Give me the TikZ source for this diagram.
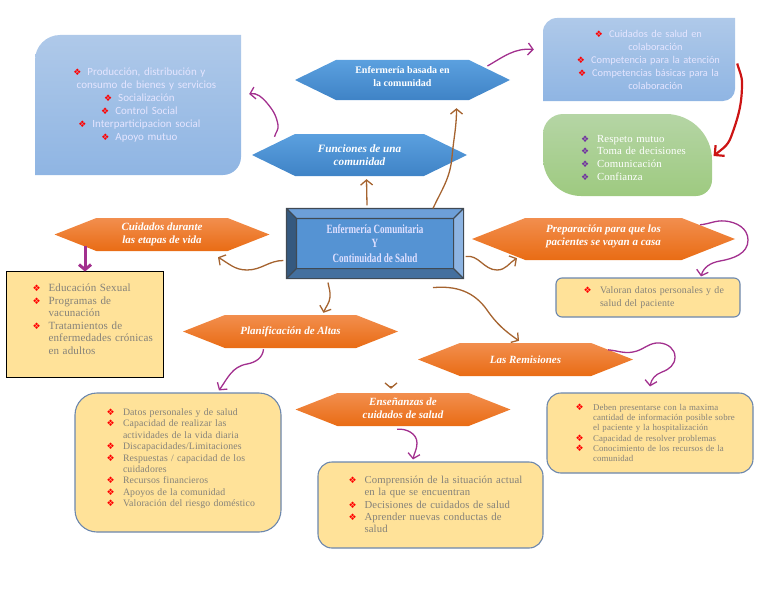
\documentclass[tikz,border=0pt]{standalone}
\usepackage{fontspec}
\usepackage{tikz}
\usetikzlibrary{shapes.symbols}
\usetikzlibrary{calc}
\usetikzlibrary{arrows.meta}
\setmainfont{Liberation Serif}
\newfontfamily\fcaja[LetterSpace=1.5]{Liberation Serif}
\newfontfamily\fazul{Carlito}
\newfontfamily\fcentro[FakeStretch=0.72,UprightFont=* Bold]{Liberation Serif}
\newfontfamily\fsimbolo{DejaVu Sans}
\definecolor{marron}{HTML}{A5632F}
\definecolor{morado}{HTML}{A2308E}
\definecolor{rojo}{HTML}{CC1414}
\definecolor{violeta}{HTML}{7030A0}
\definecolor{gristxt}{HTML}{85827A}
\definecolor{crema}{HTML}{FFE299}
\definecolor{bordecaja}{HTML}{6C87AD}
\definecolor{hexa1}{HTML}{F28E4E}
\definecolor{hexa2}{HTML}{F47C24}
\definecolor{hexa3}{HTML}{E96C14}
\definecolor{hexb1}{HTML}{5BA0DF}
\definecolor{hexb2}{HTML}{3F83C6}
\definecolor{azul1}{HTML}{AFC9E9}
\definecolor{azul2}{HTML}{8FB5E3}
\definecolor{verde1}{HTML}{B5D5A5}
\definecolor{verde2}{HTML}{9ECA80}
\definecolor{bisel0}{HTML}{5593D3}
\definecolor{bisel1}{HTML}{6D9FD8}
\definecolor{bisel2}{HTML}{35597F}
\definecolor{bisel3}{HTML}{8DB4E2}
\definecolor{bisel4}{HTML}{44709F}
\definecolor{biselraya}{HTML}{404A54}
\newcommand{\colorvin}{red}
\newcommand{\vin}{\textcolor{\colorvin}{\fsimbolo\small ❖}}
% item with a hanging text
\newcommand{\punto}[2][12.5pt]{\par\hangindent=#1\hangafter=1\noindent\makebox[#1][l]{\hspace*{-3.5pt}\vin}#2}
\newcommand{\colgado}{\leavevmode\llap{\vin\hspace{6pt}}}
% box with a radius for each corner: x0,y0,x1,y1,r1..r4
\newcommand{\cajaesq}[8]{(#1+#5,#2) -- (#3-#6,#2) .. controls (#3-0.45*#6,#2) and (#3,#2+0.45*#6) .. (#3,#2+#6) -- (#3,#4-#7) .. controls (#3,#4-0.45*#7) and (#3-0.45*#7,#4) .. (#3-#7,#4) -- (#1+#8,#4) .. controls (#1+0.45*#8,#4) and (#1,#4-0.45*#8) .. (#1,#4-#8) -- (#1,#2+#5) .. controls (#1,#2+0.45*#5) and (#1+0.45*#5,#2) .. (#1+#5,#2) -- cycle}
\tikzset{
    hexagono/.style = {signal,signal to=west and east,inner sep=0pt,minimum width=215pt,align=center,text=white,font=\fontsize{11}{13}\selectfont\bfseries\itshape},
    hexnaranja/.style = {hexagono,signal pointer angle=43,top color=hexa1,middle color=hexa2,bottom color=hexa3},
    hexazul/.style = {hexagono,signal pointer angle=52,top color=hexb1,bottom color=hexb2},
    cajaazul/.style = {top color=azul1,bottom color=azul2},
    textoazul/.style = {align=center,inner sep=0pt,text=white!90!blue,font=\fazul},
    caja/.style = {rectangle,draw=bordecaja,line width=1.1pt,fill=crema,inner sep=0pt,align=left,text=gristxt},
    conector/.style = {draw=marron,line width=1.3pt,-{Straight Barb[length=5pt,width=12pt]}},
    enlace/.style = {conector,draw=morado}}
\begin{document}
\begin{tikzpicture}[x=1pt,y=-1pt]
    \useasboundingbox (0,0) rectangle (768,594);
    % blue and green boxes
    \shade[cajaazul] \cajaesq{35}{35}{241}{175}{25}{0}{18}{0};
    \shade[cajaazul] \cajaesq{543}{18}{735}{101}{14}{0}{12}{0};
    \shade[top color=verde1,bottom color=verde2] \cajaesq{543}{114}{712}{196}{20}{46}{16}{38};
    \path (138,105) node[textoazul,text width=206pt,minimum height=140pt,font=\fontsize{11}{13}\selectfont\fazul] (social) {%
        \addtolength{\leftskip}{17pt}\colgado Producción, distribución y\\consumo de bienes y servicios\\\colgado Socialización\\\colgado Control Social\\\colgado Interparticipacion social\\\colgado Apoyo mutuo\par}
        (639,59.5) node[textoazul,text width=192pt,minimum height=83pt,font=\fontsize{10.4}{13}\selectfont\fazul] (colabora) {%
        \addtolength{\leftskip}{33pt}\colgado Cuidados de salud en\\colaboración\\\colgado Competencia para la atención\\\colgado Competencias básicas para la\\colaboración\par}
        (627.5,155) node[caja,draw=none,fill=none,text=white,text width=169pt,minimum height=82pt,font=\fontsize{10.8}{12.7}\selectfont\fcaja] (confianza) {%
        \renewcommand{\colorvin}{violeta}\setlength{\leftskip}{41.5pt}\punto{Respeto mutuo}\punto{Toma de decisiones}\punto{Comunicación}\punto{Confianza}\par};
    % center and hexagons
    \path (375,243.5) node[rectangle,draw=biselraya,line width=1.2pt,fill=bisel0,minimum width=176pt,minimum height=69pt,inner sep=0pt,align=center,text=white!88!blue,font=\fontsize{12.6}{14.2}\selectfont\fcentro] (centro) {Enfermería Comunitaria\\Y\\Continuidad de Salud}
        + (27.5,-163.5) node[hexazul,minimum height=40pt,font=\fontsize{10}{13}\selectfont\bfseries] (enf) {Enfermería basada en\\la comunidad\vspace{6pt}}
        + (-15.5,-88.5) node[hexazul,minimum height=42pt,font=\fontsize{11.2}{13}\selectfont\bfseries\itshape] (fun) {Funciones de una\\comunidad}
        + (-213,-9) node[hexnaranja,minimum height=33pt] (cui) {Cuidados durante\\las etapas de vida}
        + (-84.5,88) node[hexnaranja,minimum height=33pt] (pla) {Planificación de Altas}
        + (228.5,-4.5) node[hexnaranja,minimum height=42pt,minimum width=263pt] (pre) {Preparación para que los\\pacientes se vayan a casa\vspace{6pt}}
        + (150.5,116) node[hexnaranja,minimum height=33pt] (rem) {Las Remisiones}
        + (28,166) node[hexnaranja,minimum height=33pt] (ens) {Enseñanzas de\\cuidados de salud\vspace{3pt}};
    \fill[bisel1] (centro.north west) -- (centro.north east) -- ($(centro.north east)+(-10,10)$) -- ($(centro.north west)+(10,10)$) -- cycle;
    \fill[bisel2] (centro.north west) -- (centro.south west) -- ($(centro.south west)+(10,-10)$) -- ($(centro.north west)+(10,10)$) -- cycle;
    \fill[bisel3] (centro.north east) -- (centro.south east) -- ($(centro.south east)+(-10,-10)$) -- ($(centro.north east)+(-10,10)$) -- cycle;
    \fill[bisel4] (centro.south west) -- (centro.south east) -- ($(centro.south east)+(-10,-10)$) -- ($(centro.south west)+(10,-10)$) -- cycle;
    \draw[biselraya,line width=1.2pt] ($(centro.north west)+(10,10)$) rectangle ($(centro.south east)+(-10,-10)$) (centro.north west) -- ($(centro.north west)+(10,10)$) (centro.north east) -- ($(centro.north east)+(-10,10)$) (centro.south west) -- ($(centro.south west)+(10,-10)$) (centro.south east) -- ($(centro.south east)+(-10,-10)$) (centro.north west) rectangle (centro.south east);
    % yellow boxes
    \path (84.5,324) node[caja,draw=black,line width=0.9pt,text width=157pt,minimum height=106pt,font=\fontsize{11}{12.5}\selectfont\fcaja] (vida) {%
        \setlength{\leftskip}{30pt}\punto{Educación Sexual}\punto{Programas de\newline vacunación}\punto{Tratamientos de\newline enfermedades crónicas\newline en adultos}\par\vspace{14pt}}
        (648,297.5) node[caja,text width=184pt,minimum height=39pt,rounded corners=6pt,font=\fontsize{9.9}{12.5}\selectfont\fcaja] (valoran) {%
        \setlength{\leftskip}{31pt}\punto[13pt]{Valoran datos personales y de\newline salud del paciente}\par\vspace{5pt}}
        (178,462.5) node[caja,text width=206pt,minimum height=139pt,rounded corners=22pt,font=\fontsize{9.8}{11.4}\selectfont\fcaja] (datos) {%
        \setlength{\leftskip}{35pt}\punto[13pt]{Datos personales y de salud}\punto[13pt]{Capacidad de realizar las\newline actividades de la vida diaria}\punto[13pt]{Discapacidades/Limitaciones}\punto[13pt]{Respuestas / capacidad de los\newline cuidadores}\punto[13pt]{Recursos financieros}\punto[13pt]{Apoyos de la comunidad}\punto[13pt]{Valoración del riesgo doméstico}\par\vspace{12pt}}
        (430.5,505) node[caja,text width=225pt,minimum height=86pt,rounded corners=14pt,font=\fontsize{10.7}{12.4}\selectfont\fcaja] (comprende) {%
        \setlength{\leftskip}{34pt}\punto{Comprensión de la situación actual\newline en la que se encuentran}\punto{Decisiones de cuidados de salud}\punto{Aprender nuevas conductas de\newline salud}\par\vspace{6pt}}
        (650,433) node[caja,text width=206pt,minimum height=80pt,rounded corners=14pt,font=\fontsize{8.85}{10.3}\selectfont\fcaja] (deben) {%
        \setlength{\leftskip}{32pt}\punto[14pt]{Deben presentarse con la maxima\newline cantidad de información posible sobre\newline el paciente y la hospitalización}\punto[14pt]{Capacidad de resolver problemas}\punto[14pt]{Conocimiento de los recursos de la\newline comunidad}\par\vspace{4pt}};
    % connectors
    \draw[conector] ($(centro.north)+(-8,-3)$) -- ($(fun.south)+(7,3)$);
    \draw[conector] ($(centro.north)+(58,0)$) to [out=65,in=-95] (452,157) to [out=85,in=-90] ($(enf.south)+(54,8)$);
    \draw[conector] ($(centro.west)+(-3,17)$) to [out=180,in=0] (247,270) to [out=180,in=-30] ($(cui.south)+(56,6)$);
    \draw[conector] ($(centro.south)+(-47,4)$) to [out=-80,in=85] (330,297) to [out=-95,in=70] ($(pla.north)+(33,-2)$);
    \draw[conector] ($(centro.east)+(2,13)$) to [out=10,in=180] (497,270) to [out=0,in=-150] ($(pre.south)+(-86.5,-2)$);
    \draw[conector] ($(centro.south)+(58,9)$) to [out=5,in=125] (487,310) to [out=-55,in=145] ($(rem.north)+(-6.5,-2)$);
    \draw[conector] ($(ens.north)+(-12,-7)$) -- ($(ens.north)+(-12,-4)$);
    \draw[enlace] ($(fun.north)+(-85,3)$) to [out=75,in=-80] (278,125) to [out=100,in=-50] (267,103) to [out=130,in=10] ($(social.east)+(8,-11)$);
    \draw[enlace] ($(enf.east)+(-23,-14)$) to [out=30,in=175] ($(colabora.west)+(-9,-10)$);
    \draw[draw=rojo,line width=2.2pt,-{Straight Barb[length=7pt,width=14pt]}] ($(colabora.east)+(2,4)$) to [out=-75,in=90] (742,83) to [out=-90,in=70] (731,137) to [out=-110,in=40] ($(confianza.east)+(1,1)$);
    \draw[enlace,line width=3pt] ($(cui.south)+(-77,-5)$) -- ($(vida.north)+(0.5,1)$);
    \draw[enlace] ($(pla.south)+(-27,1)$) to [out=-95,in=10] (247,364) to [out=190,in=55] ($(datos.north)+(41,-2)$);
    \draw[enlace] ($(pre.north)+(96.5,7)$) to [out=5,in=175] (725,221) to [out=-5,in=90] (748,240) to [out=-90,in=10] (720,261) to [out=190,in=75] ($(valoran.north)+(53,-1)$);
    \draw[enlace] ($(rem.north)+(82.5,7)$) to [out=-5,in=190] (633,352) to [out=10,in=175] (660,343) to [out=-5,in=90] (675,357) to [out=-90,in=20] (662,372) to [out=200,in=80] ($(deben.north)+(0,-6)$);
    \draw[enlace] ($(ens.south)+(-6,3)$) to [out=5,in=90] (417,443) to [out=-90,in=80] ($(comprende.north)+(-17.5,-2)$);
\end{tikzpicture}
\end{document}
